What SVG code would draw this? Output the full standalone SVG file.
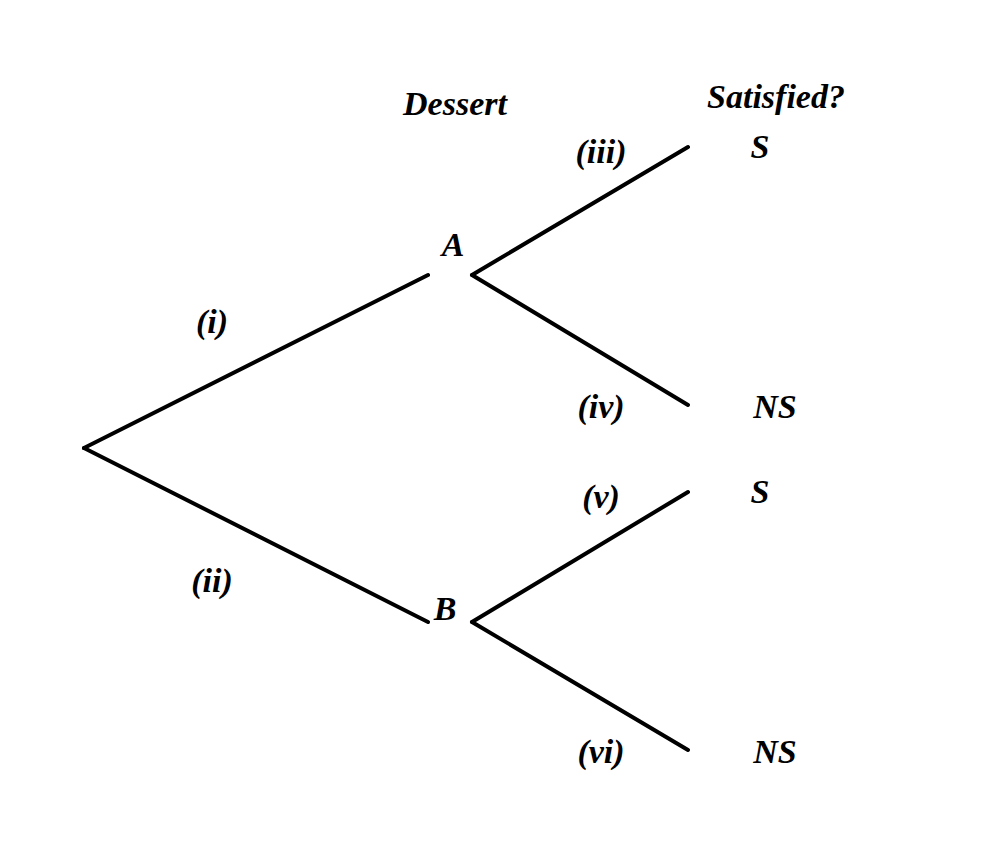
<svg xmlns="http://www.w3.org/2000/svg" width="1004" height="848" viewBox="0 0 1004 848">
<style>
text{font-family:"Liberation Serif","Times New Roman",serif;font-weight:bold;font-style:italic;font-size:34px;text-anchor:middle;fill:#000}
line{stroke:#000;stroke-width:4;stroke-linecap:round}
</style>
<rect width="1004" height="848" fill="#fff"/>
<g id="connectors">
<line x1="84" y1="448" x2="428" y2="275"/>
<line x1="84" y1="448" x2="428" y2="622"/>
<line x1="472" y1="275" x2="688" y2="147"/>
<line x1="472" y1="275" x2="688" y2="405"/>
<line x1="472" y1="622" x2="688" y2="492"/>
<line x1="472" y1="622" x2="688" y2="750"/>
</g>
<g id="headers"><text x="455" y="115">Dessert</text><text x="776" y="108">Satisfied?</text></g>
<g id="nodeA"><text x="453" y="256">A</text></g>
<g id="nodeB"><text x="445" y="620">B</text></g>
<g id="leaf1"><text x="760" y="158">S</text></g>
<g id="leaf2"><text x="775" y="418">NS</text></g>
<g id="leaf3"><text x="760" y="503">S</text></g>
<g id="leaf4"><text x="775" y="763">NS</text></g>
<g id="labels">
<text x="212" y="333">(i)</text><text x="212" y="592">(ii)</text>
<text x="601" y="163">(iii)</text><text x="601" y="418">(iv)</text>
<text x="601" y="508">(v)</text><text x="601" y="763">(vi)</text>
</g>
</svg>
